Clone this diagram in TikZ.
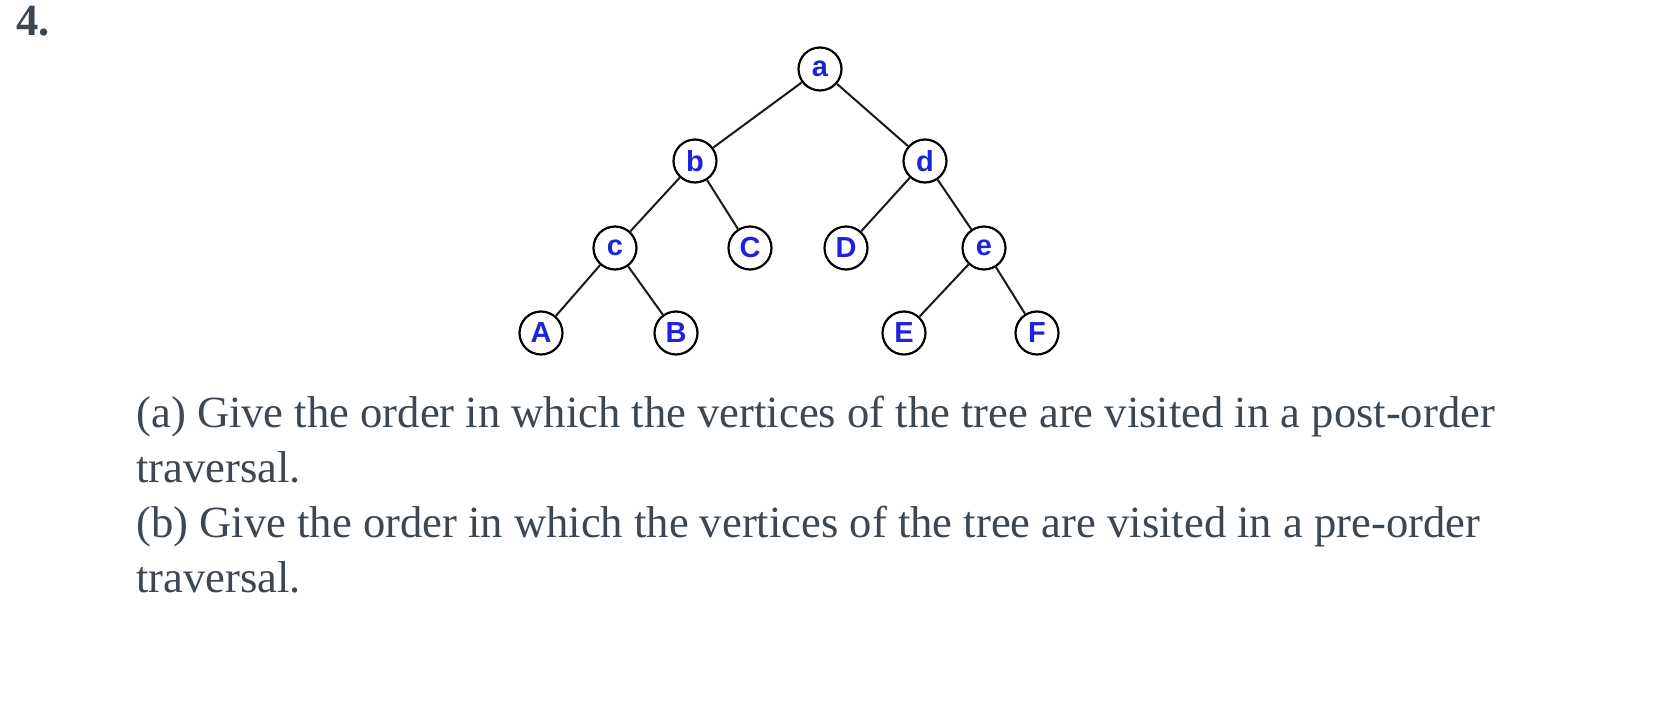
\documentclass[tikz,border=0pt]{standalone}
\usepackage{fontspec}
\setmainfont{Liberation Serif}
\newfontfamily\labelfont{Liberation Sans}
\usetikzlibrary{positioning}
\definecolor{ink}{HTML}{3C4751}
\definecolor{vtxblue}{HTML}{1E22DC}

\begin{document}
\begin{tikzpicture}[
  x=0.5pt, y=-0.5pt,
  vtx/.style={draw=black, line width=1.1pt, circle, minimum size=21.5pt, inner sep=0pt,
    font=\labelfont\bfseries\fontsize{14.5}{14.5}\selectfont, text=vtxblue},
  edge/.style={line width=1pt, draw=black!90},
  qline/.style={anchor=base west, inner sep=0pt, text=ink, font=\fontsize{22.3}{26}\selectfont}
]
\useasboundingbox (0,0) rectangle (1678,723);

% Problem number
\node[anchor=base west, inner sep=0pt, text=ink, font=\bfseries\fontsize{22.3}{26}\selectfont] (num) at (16,35) {4.};

% Tree
\node[vtx] (v-a) at (820, 69) {a};
\node[vtx] (v-b) at (695,161) {b};
\node[vtx] (v-d) at (925,161) {d};
\node[vtx] (v-c) at (615,248) {c};
\node[vtx] (v-C) at (750,248) {C};
\node[vtx] (v-D) at (846,248) {D};
\node[vtx] (v-e) at (984,248) {e};
\node[vtx] (v-A) at (541,333) {A};
\node[vtx] (v-B) at (676,333) {B};
\node[vtx] (v-E) at (904,333) {E};
\node[vtx] (v-F) at (1037,333) {F};

\foreach \p/\k in {a/b, a/d, b/c, b/C, c/A, c/B, d/D, d/e, e/E, e/F}
  \draw[edge] (v-\p) -- (v-\k);

% Question text
\node[qline] (qa1) at (136,427) {(a) Give the order in which the vertices of the tree are visited in a post-order};
\node[qline] (qa2) at (136,482) {traversal.};
\node[qline] (qb1) at (136,537) {(b) Give the order in which the vertices of the tree are visited in a pre-order};
\node[qline] (qb2) at (136,592) {traversal.};
\end{tikzpicture}
\end{document}
